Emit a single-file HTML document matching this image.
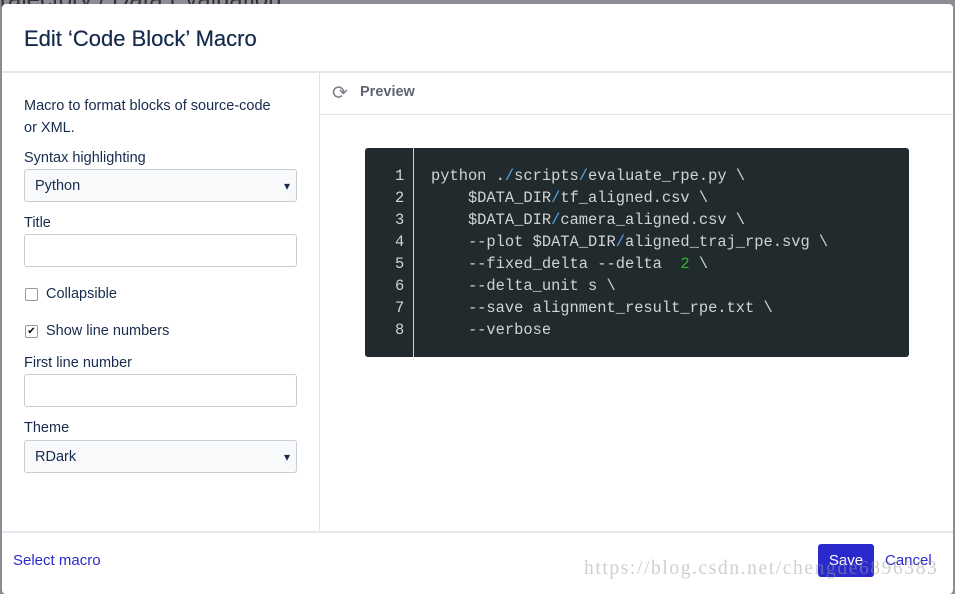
<!DOCTYPE html>
<html><head><style>
body{margin:0;width:955px;height:588px;background:#8a8d94;position:relative;overflow:hidden;font-family:"Liberation Sans",sans-serif;}
.dlg{position:absolute;left:2px;top:4px;width:951px;height:590px;background:#fff;border-radius:4px;}
.a{position:absolute;}
.t{font-size:14.5px;color:#172b4d;}
.box{position:absolute;left:24px;width:271px;height:31px;border:1px solid #c8ccd3;border-radius:3px;background:#fff;}
.sel{background:#f8f9fa;font-size:14.5px;color:#172b4d;line-height:33px;box-sizing:border-box;padding-left:10px;width:273px;height:33px;}
.sel:after{content:"▾";position:absolute;right:6px;top:0;font-size:12px;}
.cb{position:absolute;left:24px;width:11px;height:11px;border:1px solid #999;border-radius:2px;background:#fff;font-size:10px;line-height:11px;text-align:center;}
pre{margin:0;font-family:"Liberation Mono",monospace;font-size:15.4px;line-height:22px;color:#d0d4d6;}
</style></head><body>
<div class="a" style="left:0;top:-14px;font-size:24px;color:#333;">rajectory / Data Evaluation</div>
<div class="dlg">
<div class="a" style="left:22px;top:22px;font-size:22px;color:#172b4d;text-shadow:0 0 0.4px #172b4d;">Edit ‘Code Block’ Macro</div>
<div class="a" style="left:0;top:67px;width:951px;height:2px;background:#e6e8ee;"></div>
<div class="a" style="left:317px;top:69px;width:1px;height:458px;background:#dfe1e6;"></div>
<div class="a" style="left:318px;top:110px;width:633px;height:1px;background:#dfe1e6;"></div>
<div class="a" style="left:0;top:527px;width:951px;height:2px;background:#e6e8ee;"></div>
<div class="a" style="left:330px;top:78px;font-size:19px;color:#7a7f88;">⟳</div>
<div class="a" style="left:358px;top:80px;font-size:14.5px;font-weight:bold;color:#5e6470;">Preview</div>
<div class="a t" style="left:22px;top:91px;line-height:22px;width:290px;">Macro to format blocks of source-code<br>or XML.</div>
<div class="a t" style="left:22px;top:146px;">Syntax highlighting</div>
<div class="box sel" style="left:22px;top:165px;">Python</div>
<div class="a t" style="left:22px;top:211px;">Title</div>
<div class="box" style="left:22px;top:230px;"></div>
<div class="cb" style="left:23px;top:284px;"></div>
<div class="a t" style="left:44px;top:282px;">Collapsible</div>
<div class="cb" style="left:23px;top:321px;">✔</div>
<div class="a t" style="left:44px;top:319px;">Show line numbers</div>
<div class="a t" style="left:22px;top:351px;">First line number</div>
<div class="box" style="left:22px;top:370px;"></div>
<div class="a t" style="left:22px;top:416px;">Theme</div>
<div class="box sel" style="left:22px;top:436px;">RDark</div>
<div class="a" style="left:363px;top:144px;width:544px;height:209px;background:#212a2d;border-radius:3px;">
<div class="a" style="left:48px;top:0;width:1px;height:209px;background:#d0d4d6;"></div>
<pre class="a" style="left:30px;top:17px;text-align:right;">1
2
3
4
5
6
7
8</pre>
<pre class="a" style="left:66px;top:17px;">python .<span style="color:#5aa5e6">/</span>scripts<span style="color:#5aa5e6">/</span>evaluate_rpe.py \
    $DATA_DIR<span style="color:#5aa5e6">/</span>tf_aligned.csv \
    $DATA_DIR<span style="color:#5aa5e6">/</span>camera_aligned.csv \
    --plot $DATA_DIR<span style="color:#5aa5e6">/</span>aligned_traj_rpe.svg \
    --fixed_delta --delta  <span style="color:#2fb52f">2</span> \
    --delta_unit s \
    --save alignment_result_rpe.txt \
    --verbose</pre>
</div>
<div class="a" style="left:11px;top:548px;font-size:15px;color:#2a2acc;">Select macro</div>
<div class="a" style="left:816px;top:540px;width:56px;height:33px;background:#2a2acc;border-radius:3px;color:#fff;font-size:15px;line-height:33px;text-align:center;">Save</div>
<div class="a" style="left:883px;top:548px;font-size:15px;color:#2a2acc;">Cancel</div>
<div class="a" style="left:582px;top:554px;font-family:'Liberation Serif',serif;font-size:19.5px;color:rgba(160,160,160,0.5);letter-spacing:1.6px;">https://blog.csdn.net/chengde6896383</div>
</div>
</body></html>
